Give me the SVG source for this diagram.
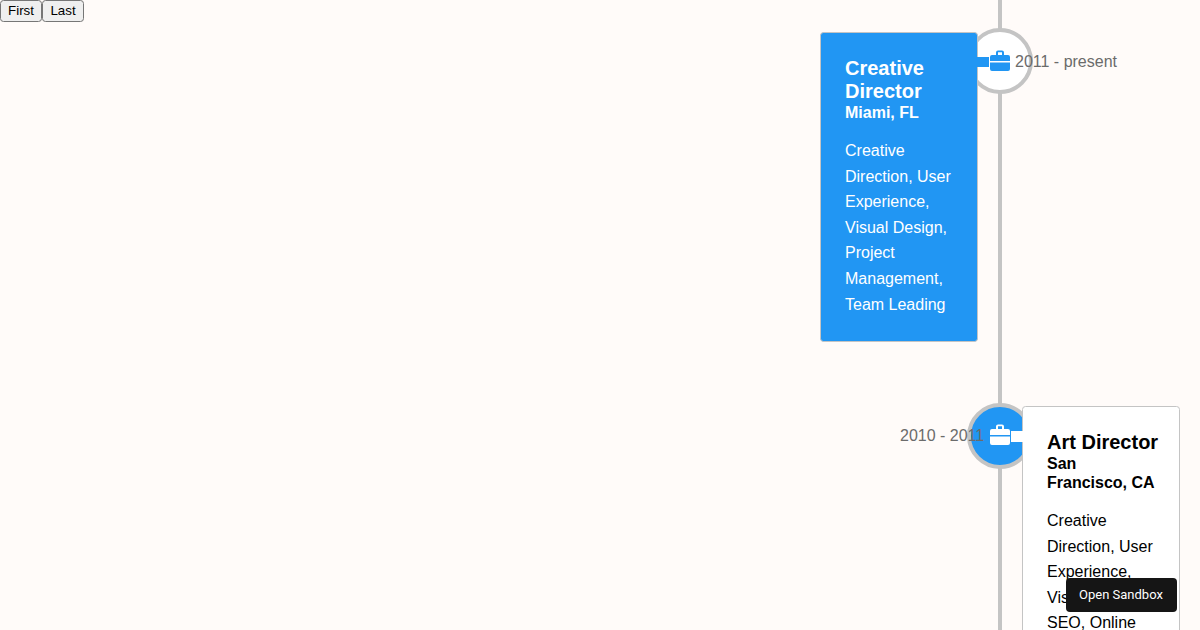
<svg xmlns="http://www.w3.org/2000/svg" width="1200" height="630" viewBox="0 0 1200 630">
<defs>
<style>
text{font-family:"Liberation Sans",Arial,sans-serif}
.btn{fill:#efefef;stroke:#767676;stroke-width:1}
.bt{font-size:13.33px;fill:#000;text-anchor:middle}
.date{font-size:16px;fill:#6b6b6b}
.h{font-size:20px;font-weight:bold}
.s{font-size:16px;font-weight:bold}
.b{font-size:16px}
.w{fill:#fff}
.k{fill:#000}
</style>
<g id="case"><path d="M-10 -5a2 2 0 0 1 2-2h4v-2.500a2 2 0 0 1 2-2h4a2 2 0 0 1 2 2v2.500h4a2 2 0 0 1 2 2v4h-20zM-10 0.500h20v6.500a2 2 0 0 1-2 2h-16a2 2 0 0 1-2-2zM-2 -7h4v-2.700h-4z" fill-rule="evenodd"/></g>
</defs>
<rect width="1200" height="630" fill="#fffbf9"/>
<g id="connectors">
<rect x="998" y="0" width="4" height="630" fill="#c4c4c4"/>
</g>
<g id="btn-first"><rect class="btn" x="0.500" y="0.500" width="41" height="21" rx="3"/><text class="bt" x="21" y="15">First</text></g>
<g id="btn-last"><rect class="btn" x="42.500" y="0.500" width="41" height="21" rx="3"/><text class="bt" x="63" y="15">Last</text></g>
<g id="node-1">
<circle cx="1000" cy="61" r="31" fill="#fff" stroke="#c4c4c4" stroke-width="4"/>
<rect x="820.500" y="32.500" width="157" height="309" rx="3" fill="#2196f3" stroke="#c4c4c4"/>
<rect x="977" y="57" width="12" height="10" fill="#2196f3"/>
<use href="#case" x="1000" y="62" fill="#2196f3"/>
<text class="date" x="1015" y="67">2011 - present</text>
<text class="h w" x="845" y="75">Creative</text>
<text class="h w" x="845" y="98">Director</text>
<text class="s w" x="845" y="118">Miami, FL</text>
<g class="b w">
<text x="845" y="156">Creative</text>
<text x="845" y="182">Direction, User</text>
<text x="845" y="207">Experience,</text>
<text x="845" y="233">Visual Design,</text>
<text x="845" y="258">Project</text>
<text x="845" y="284">Management,</text>
<text x="845" y="310">Team Leading</text>
</g>
</g>
<g id="node-2">
<circle cx="1000" cy="436" r="31" fill="#2196f3" stroke="#c4c4c4" stroke-width="4"/>
<rect x="1022.500" y="406.500" width="157" height="240" rx="3" fill="#fff" stroke="#c4c4c4"/>
<rect x="1011" y="431" width="13" height="11" fill="#fff"/>
<use href="#case" x="1000" y="436" fill="#fff"/>
<text class="date" x="900" y="441">2010 - 2011</text>
<text class="h k" x="1047" y="449">Art Director</text>
<text class="s k" x="1047" y="469">San</text>
<text class="s k" x="1047" y="488">Francisco, CA</text>
<g class="b k">
<text x="1047" y="526">Creative</text>
<text x="1047" y="552">Direction, User</text>
<text x="1047" y="577">Experience,</text>
<text x="1047" y="603">Visual Design,</text>
<text x="1047" y="628">SEO, Online</text>
</g>
</g>
<g id="open-sandbox">
<rect x="1066" y="578" width="111" height="34" rx="4" fill="#151515"/>
<text x="1079" y="599" font-size="13" fill="#fff" style="font-family:'Roboto','Liberation Sans',sans-serif">Open Sandbox</text>
</g>
</svg>
